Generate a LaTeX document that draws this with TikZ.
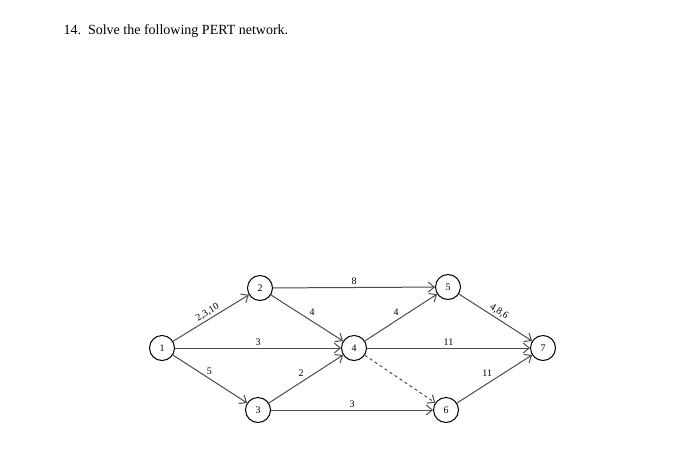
\documentclass[tikz,border=0pt]{standalone}
\usepackage{fontspec}
\setmainfont{Liberation Serif}
\usetikzlibrary{arrows.meta}
\begin{document}
\begin{tikzpicture}[x=1pt,y=-1pt,
  ev/.style={draw,circle,line width=1pt,minimum size=25pt,inner sep=0pt,font=\normalsize},
  act/.style={draw=black!70,line width=1pt,-{Straight Barb[length=6pt,width=10pt]}},
  lab/.style={font=\normalsize,inner sep=2pt}]
\useasboundingbox[fill=white] (0,0) rectangle (700,471);
\node[anchor=west,font=\fontsize{14}{16}\selectfont] (title) at (60,31) {14.\ \ Solve the following PERT network.};
\node[ev] (n1) at (162,348) {1};
\node[ev] (n2) at (260,288) {2};
\node[ev] (n3) at (258,410) {3};
\node[ev] (n4) at (354,348) {4};
\node[ev] (n5) at (448,287) {5};
\node[ev] (n6) at (446,410) {6};
\node[ev] (n7) at (543,348) {7};
\draw[act] (n1) -- node[lab,above,sloped] {2,3,10} (n2);
\draw[act] (n1) -- node[lab,above] {3} (n4);
\draw[act] (n1) -- node[lab,above,pos=0.45,xshift=3pt] {5} (n3);
\draw[act] (n2) -- node[lab,above] {8} (n5);
\draw[act] (n2) -- node[lab,above right] {4} (n4);
\draw[act] (n3) -- node[lab,above left] {2} (n4);
\draw[act] (n3) -- node[lab,above] {3} (n6);
\draw[act] (n4) -- node[lab,above left] {4} (n5);
\draw[act] (n4) -- node[lab,above] {11} (n7);
\draw[act,dashed] (n4) -- (n6);
\draw[act] (n5) -- node[lab,above,sloped] {4,8,6} (n7);
\draw[act] (n6) -- node[lab,above left] {11} (n7);
\end{tikzpicture}
\end{document}
